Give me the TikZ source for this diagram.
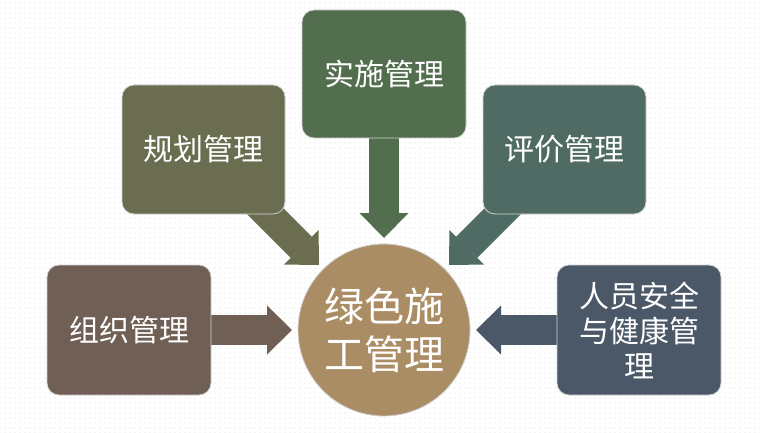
\documentclass[tikz,border=0pt]{standalone}
\usepackage{fontspec}
\newfontfamily\cjk{Noto Sans CJK SC}
\usetikzlibrary{arrows.meta,patterns.meta}
\pgfdeclarelayer{paper}
\pgfdeclarelayer{behind}
\pgfsetlayers{paper,behind,main}
\definecolor{cPlan}{HTML}{6B6D50}
\definecolor{cImpl}{HTML}{536E4F}
\definecolor{cEval}{HTML}{4F6B63}
\definecolor{cOrg}{HTML}{705F55}
\definecolor{cHS}{HTML}{4B5868}
\definecolor{cCore}{HTML}{AB8D65}
\tikzdeclarepattern{name=bgdots, type=uncolored,
  bounding box={(-2.5pt,-2.5pt) and (2.5pt,2.5pt)},
  tile size={(5pt,5pt)},
  code={\fill (0pt,0pt) circle (0.55pt);}}
\tikzset{
  box/.style={rounded corners=12pt, draw=white!82!black, line width=0.8pt,
    minimum width=163pt, minimum height=129pt, outer sep=0pt,
    text=white, align=center, font=\cjk\fontsize{30}{35}\selectfont},
  core/.style={circle, fill=cCore, draw=white!82!black, line width=0.8pt,
    minimum size=172pt, inner sep=0pt, outer sep=0pt,
    text=white, align=center, font=\cjk\fontsize{40}{48}\selectfont},
  bigarrow/.style={line width=30pt, shorten >=6pt,
    -{Triangle[width=49pt,length=25pt,line width=0pt]}}
}
\begin{document}
\begin{tikzpicture}[x=1pt,y=-1pt]
\begin{pgfonlayer}{paper}
\fill[white] (0,0) rectangle (760,433);
\fill[pattern=bgdots, pattern color=black!14] (0,0) rectangle (760,433);
\end{pgfonlayer}
\useasboundingbox (0,0) rectangle (760,433);
% nodes
\node[core] (c) at (384,330) {绿色施\\工管理};
\node[box, fill=cPlan] (plan) at (203.5,149.5) {规划管理};
\node[box, fill=cImpl, minimum width=164pt, minimum height=128pt] (impl) at (384,74) {实施管理};
\node[box, fill=cEval] (eval) at (564.5,149.5) {评价管理};
\node[box, fill=cOrg, minimum width=164pt, minimum height=130pt] (org) at (129,330) {组织管理};
\node[box, fill=cHS, minimum width=164pt, minimum height=130pt] (hs) at (639,330) {人员安全\\与健康管\\理};
% arrows, behind the boxes
\begin{pgfonlayer}{behind}
\draw[bigarrow, draw=cPlan] (plan.center) -- (c);
\draw[bigarrow, draw=cImpl] (impl.center) -- (c);
\draw[bigarrow, draw=cEval] (eval.center) -- (c);
\draw[bigarrow, draw=cOrg] (org.center) -- (c);
\draw[bigarrow, draw=cHS] (hs.center) -- (c);
\end{pgfonlayer}
\end{tikzpicture}
\end{document}
